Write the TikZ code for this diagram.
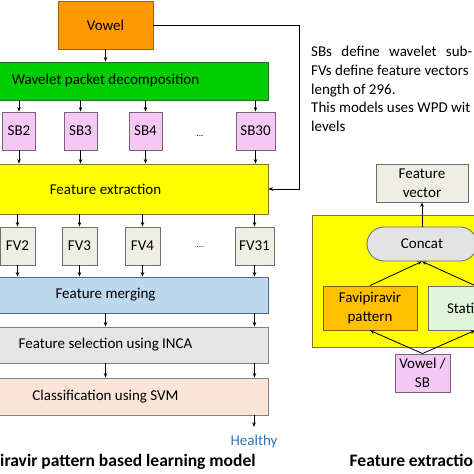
\documentclass[tikz,border=0pt]{standalone}
\usepackage{fontspec}
\setmainfont{Carlito}
\usetikzlibrary{arrows.meta}

\definecolor{vowelorange}{RGB}{255,153,0}
\definecolor{vowelline}{RGB}{160,96,20}
\definecolor{wpdgreen}{RGB}{0,204,0}
\definecolor{wpdline}{RGB}{40,110,40}
\definecolor{sbpink}{RGB}{246,200,246}
\definecolor{sbline}{RGB}{120,100,120}
\definecolor{feyellow}{RGB}{255,255,0}
\definecolor{feline}{RGB}{130,120,40}
\definecolor{fvgrey}{RGB}{238,238,226}
\definecolor{fvline}{RGB}{110,110,110}
\definecolor{mergeblue}{RGB}{189,215,238}
\definecolor{mergeline}{RGB}{80,110,140}
\definecolor{selgrey}{RGB}{231,230,230}
\definecolor{svmpeach}{RGB}{251,229,214}
\definecolor{boxline}{RGB}{130,130,130}
\definecolor{concatgrey}{RGB}{227,227,227}
\definecolor{favorange}{RGB}{255,192,0}
\definecolor{favline}{RGB}{128,96,0}
\definecolor{statgreen}{RGB}{224,245,220}
\definecolor{healthyblue}{RGB}{46,117,182}

\tikzset{
    box/.style={draw, line width=0.9pt, inner sep=2pt, align=center,
        font=\fontsize{15}{18.75}\selectfont},
    wide/.style={box, minimum width=325},
    arr/.style={-{Stealth[length=4.5pt,width=3.6pt]}, line width=0.8pt},
    title/.style={anchor=base west, inner sep=0,
        font=\fontsize{17.5}{20}\selectfont\bfseries},
}

\begin{document}
\begin{tikzpicture}[x=1pt,y=1pt]
    \useasboundingbox (0,0) rectangle (474,474);
    \clip (0,0) rectangle (474,474);
    %% left: learning model
    \node[box, fill=vowelorange, draw=vowelline, minimum width=95, minimum height=48] (vowel) at (105.5,449) {Vowel};
    \node[wide, fill=wpdgreen, draw=wpdline, minimum height=38] (wpd) at (105.5,393) {Wavelet packet decomposition};
    %% sub-bands
    \foreach \n/\x in {2/19,3/80.5,4/145.5}
        \node[box, fill=sbpink, draw=sbline, minimum width=33, minimum height=38] (sb\n) at (\x,343) {SB\n};
    \node[box, fill=sbpink, draw=sbline, minimum width=39, minimum height=38] (sb30) at (255.5,343) {SB30};
    \node[font=\fontsize{9}{10}\selectfont] (sbdots) at (200,338) {...};
    \node[wide, fill=feyellow, draw=feline, minimum height=50] (fe) at (105.5,285) {Feature extraction};
    %% feature vectors
    \foreach \n/\x in {2/17.5,3/79.5,4/142.5}
        \node[box, fill=fvgrey, draw=fvline, minimum width=35, minimum height=38] (fv\n) at (\x,228) {FV\n};
    \node[box, fill=fvgrey, draw=fvline, minimum width=39, minimum height=38] (fv31) at (254.5,228) {FV31};
    \node[font=\fontsize{9}{10}\selectfont] (fvdots) at (200,227) {...};
    \node[wide, fill=mergeblue, draw=mergeline, minimum height=36] (merge) at (105.5,179) {Feature merging};
    \node[wide, fill=selgrey, draw=boxline, minimum height=36] (select) at (105.5,129) {Feature selection using INCA};
    \node[wide, fill=svmpeach, draw=boxline, minimum height=37] (svm) at (105.5,77.5) {Classification using SVM};
    \node[anchor=base, inner xsep=1pt, inner ysep=8.5pt, text=healthyblue,
        font=\fontsize{15}{18}\selectfont] (healthy) at (254,28) {Healthy};
    %% arrows
    \draw[arr] (vowel) -- (wpd);
    \foreach \n in {2,3,4,30} {
        \draw[arr] (wpd.south -| sb\n) -- (sb\n);
        \draw[arr] (sb\n) -- (fe.north -| sb\n);
    }
    \foreach \n in {2,3,4,31} {
        \draw[arr] (fe.south -| fv\n) -- (fv\n);
        \draw[arr] (fv\n) -- (merge.north -| fv\n);
    }
    \draw[arr] (merge) -- (select);
    \draw[arr] (merge.south -| fv31) -- (select.north -| fv31);
    \draw[arr] (select) -- (svm);
    \draw[arr] (select.south -| fv31) -- (svm.north -| fv31);
    \draw[arr] (svm.south -| healthy) -- (healthy);
    %% vowel also goes into feature extraction
    \coordinate (bend) at (299,449);
    \draw[arr] (vowel.east) -- (bend) |- (fe.east);
    %% note
    \node[anchor=north west, inner sep=0, align=left,
        font=\fontsize{15}{18.75}\selectfont] (note) at (311,428)
        {\makebox[161pt][s]{SBs define wavelet sub-}\\
         FVs define feature vectors\\
         length of 296.\\
         This models uses WPD wit\\
         levels};
    %% right: feature extraction
    \draw[line width=0.9pt, draw=feline, fill=feyellow] (312,259) rectangle (540,127);
    \node[box, fill=fvgrey, draw=fvline, minimum width=92, minimum height=38] (featvec) at (422,291) {Feature\\vector};
    \node[box, rounded corners=17pt, fill=concatgrey, draw=fvline, minimum width=110, minimum height=34] (concat) at (422,230) {Concat};
    \node[box, fill=favorange, draw=favline, minimum width=94, minimum height=44] (fav) at (370,166) {Favipiravir\\pattern};
    \node[box, fill=statgreen, draw=fvline, minimum width=94, minimum height=44, text width=56, align=left] (stat) at (475,166) {Stati};
    \node[box, fill=sbpink, draw=sbline, minimum width=55, minimum height=38] (vsb) at (422.5,101) {Vowel /\\SB};
    \draw[arr] (concat) -- (featvec);
    \draw[arr] (fav.north) -- (concat.south);
    \draw[arr] (stat.north) -- (concat.south);
    \draw[arr] (vsb.north) -- (fav.south);
    \draw[arr] (vsb.north) -- (stat.south);
    %% titles
    \node[title] (lefttitle) at (0,8) {iravir pattern based learning model};
    \node[title] (righttitle) at (349.5,8) {Feature extractio};
\end{tikzpicture}
\end{document}
